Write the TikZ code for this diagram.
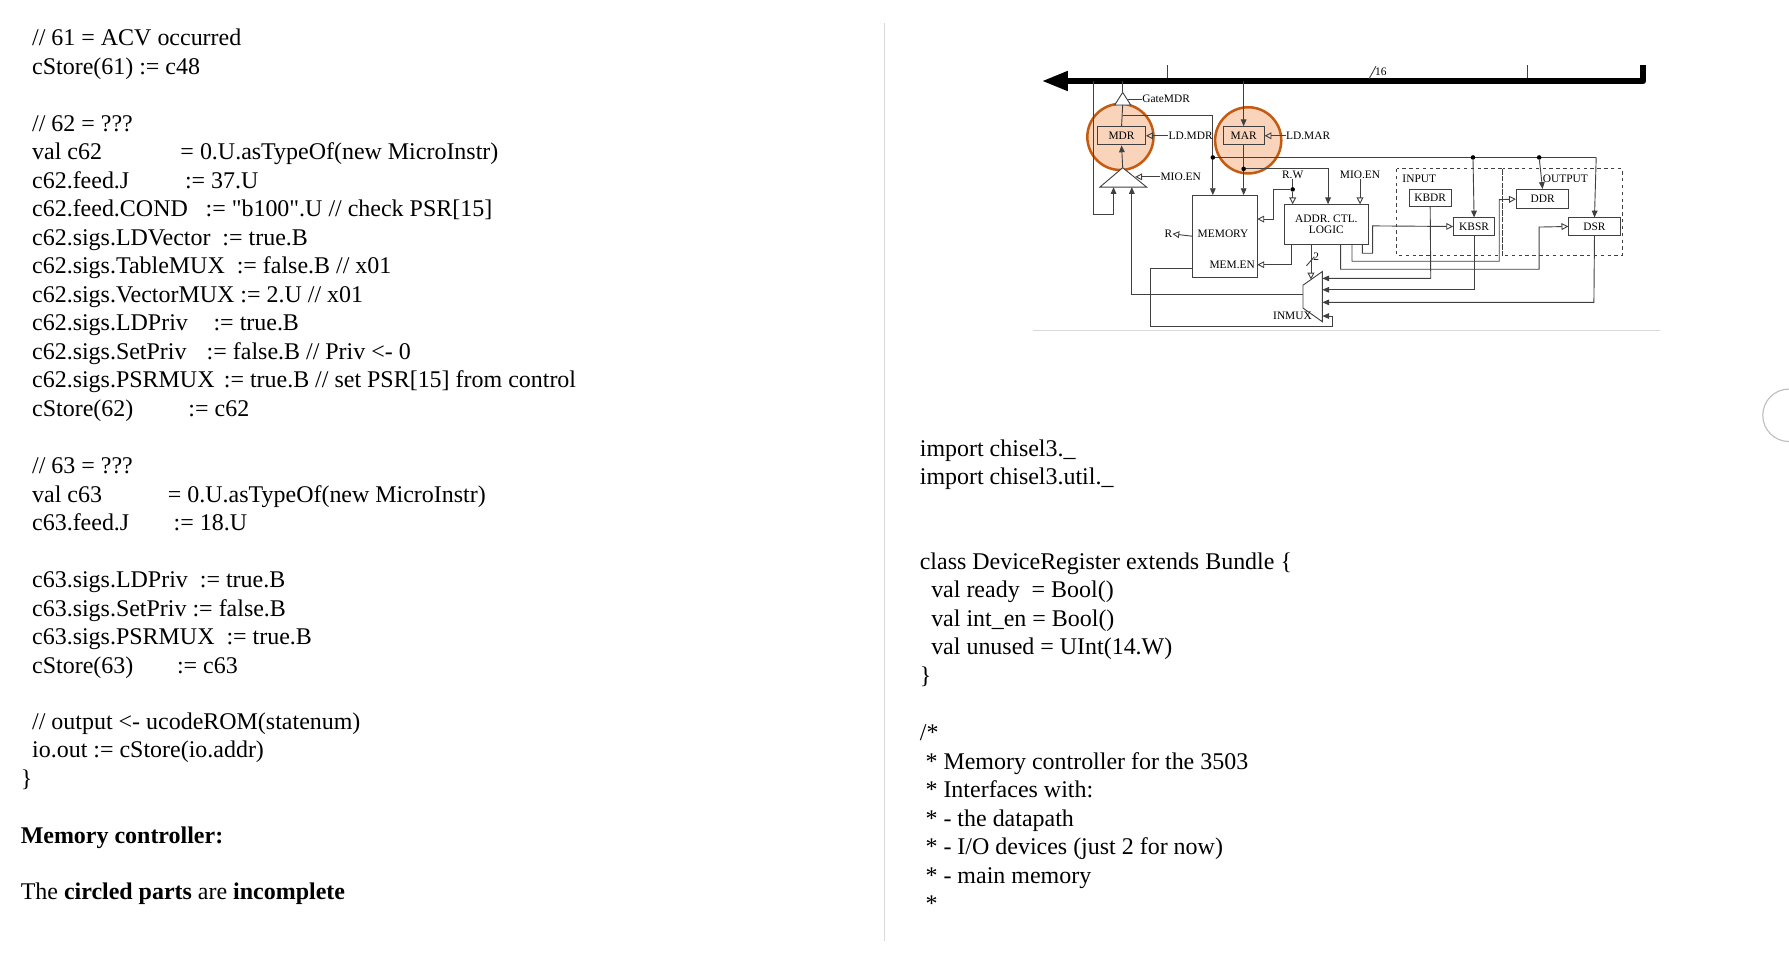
\documentclass[tikz,border=0pt]{standalone}
\usepackage{fontspec}
\setmainfont{Liberation Serif}
\newfontfamily\rawfont{Liberation Serif}[Ligatures=TeXOff]
\usetikzlibrary{arrows.meta}
\newcommand{\fs}{\fontsize{21}{24}\selectfont}
\newcommand{\ds}{\fontsize{10}{11}\selectfont}
\tikzset{
 t/.style={anchor=base west,inner sep=0,font=\fs},
 w/.style={line width=0.8pt,draw=black!75},
 box/.style={w,draw,inner sep=0,font=\ds},
 lab/.style={inner sep=0,font=\ds},
 oa/.style={-{Triangle[open,length=6pt,width=6pt]}},
 fa/.style={-{Triangle[length=6pt,width=5pt]}},
 dot/.style={circle,fill=black,inner sep=0,minimum size=4pt},
 ring/.style={circle,draw={rgb,255:red,197;green,90;blue,17},line width=2.2pt,fill={rgb,255:red,244;green,177;blue,131},fill opacity=0.55,minimum size=58pt,inner sep=0},
}
\begin{document}
\begin{tikzpicture}[x=1pt,y=-1pt]
\useasboundingbox (0,0) rectangle (1568,845);
\draw[black!15,line width=0.8pt] (775,20) -- (775,825);
\draw[black!25,line width=1pt] (1568,387) arc (90:270:23);
% left column
\node[t] at (28,40) {// 61 = ACV occurred};
\node[t] at (28,65) {cStore(61) := c48};
\node[t] at (28,115) {// 62 = ???};
\node[t] at (28,140) {val c62}; \node[t] at (158,140) {= 0.U.asTypeOf(new MicroInstr)};
\node[t] at (28,165) {c62.feed.J}; \node[t] at (162,165) {:= 37.U};
\node[t] at (28,190) {c62.feed.COND}; \node[t] at (180,190) {:= {\rawfont"}b100{\rawfont"}.U // check PSR[15]};
\node[t] at (28,215) {c62.sigs.LDVector\ \ := true.B};
\node[t] at (28,240) {c62.sigs.TableMUX\ \ := false.B // x01};
\node[t] at (28,265) {c62.sigs.VectorMUX := 2.U // x01};
\node[t] at (28,290) {c62.sigs.LDPriv}; \node[t] at (187,290) {:= true.B};
\node[t] at (28,315) {c62.sigs.SetPriv}; \node[t] at (181,315) {:= false.B // Priv <- 0};
\node[t] at (28,340) {c62.sigs.PSRMUX}; \node[t] at (196,340) {:= true.B // set PSR[15] from control};
\node[t] at (28,365) {cStore(62)}; \node[t] at (165,365) {:= c62};
\node[t] at (28,415) {// 63 = ???};
\node[t] at (28,440) {val c63}; \node[t] at (147,440) {= 0.U.asTypeOf(new MicroInstr)};
\node[t] at (28,465) {c63.feed.J}; \node[t] at (152,465) {:= 18.U};
\node[t] at (28,515) {c63.sigs.LDPriv\ \ := true.B};
\node[t] at (28,540) {c63.sigs.SetPriv := false.B};
\node[t] at (28,565) {c63.sigs.PSRMUX\ \ := true.B};
\node[t] at (28,590) {cStore(63)}; \node[t] at (155,590) {:= c63};
\node[t] at (28,639) {// output <- ucodeROM(statenum)};
\node[t] at (28,664) {io.out := cStore(io.addr)};
\node[t] at (18,689) {\}};
\node[t] at (18,739) {\textbf{Memory controller:}};
\node[t] at (18,788) {The \textbf{circled parts} are \textbf{incomplete}};
% right column
\node[t] at (806,400) {import chisel3.\_};
\node[t] at (806,425) {import chisel3.util.\_};
\node[t] at (806,499) {class DeviceRegister extends Bundle \{};
\node[t] at (816,524) {val ready\ \ = Bool()};
\node[t] at (816,549) {val int\_en = Bool()};
\node[t] at (816,574) {val unused = UInt(14.W)};
\node[t] at (806,599) {\}};
\node[t] at (806,649) {/*};
\node[t] at (811,674) {* Memory controller for the 3503};
\node[t] at (811,699) {* Interfaces with:};
\node[t] at (811,724) {* - the datapath};
\node[t] at (811,749) {* - I/O devices (just 2 for now)};
\node[t] at (811,774) {* - main memory};
\node[t] at (811,799) {*};
% diagram
\draw[black!15,line width=0.8pt] (905,290) -- (1455,290);
\node[ring] (cmdr) at (982,120) {};
\node[ring] (cmar) at (1094,123) {};
% bus
\draw[line width=6pt,line join=round] (1440,57) -- (1440,71) -- (934,71);
\fill (914,71) -- (936,62) -- (936,80) -- cycle;
\draw[w] (1023,57) -- (1023,68); \draw[w] (1339,57) -- (1339,68);
\draw[w] (1200,69) -- (1206,58); \node[lab,anchor=west] at (1205,63) {16};
% boxes
\node[box,minimum width=42pt,minimum height=16pt] (mdr) at (983,119) {MDR};
\node[box,minimum width=36pt,minimum height=16pt] (mar) at (1090,119) {MAR};
\node[box,minimum width=57pt,minimum height=72pt] (mem) at (1073.5,207) {};
\node[lab] at (1072,205) {MEMORY};
\node[lab,anchor=east] at (1100,232) {MEM.EN};
\node[box,minimum width=73pt,minimum height=35pt,align=center] (addr) at (1162.5,196.5) {ADDR. CTL.\\[-2pt]LOGIC};
\node[box,minimum width=37pt,minimum height=15pt] (kbdr) at (1253.5,173.5) {KBDR};
\node[box,minimum width=36pt,minimum height=15pt] (kbsr) at (1292,198.5) {KBSR};
\node[box,minimum width=46pt,minimum height=17pt] (ddr) at (1352,174.5) {DDR};
\node[box,minimum width=45pt,minimum height=15pt] (dsr) at (1397.5,198.5) {DSR};
\draw[w,dashed] (1224,148) rectangle (1317,224);
\draw[w,dashed] (1317,148) rectangle (1422,224);
\node[lab,anchor=west] at (1229,157) {INPUT};
\node[lab,anchor=west] at (1352,157) {OUTPUT};
% triangles
\draw[w,fill=white] (984,81) -- (977,92) -- (991,92) -- cycle;
\draw[w,fill=white] (984,147) -- (964,164) -- (1005,164) -- cycle;
\draw[w,fill=white] (1142,250) -- (1159,238) -- (1159,282) -- (1142,270) -- cycle;
\node[lab,anchor=east] at (1150,277) {INMUX};
% labels with open arrows
\node[lab,anchor=west] (gmdr) at (1001,87) {GateMDR}; \draw[w] (gmdr.west) -- (989,87);
\node[lab,anchor=west] (ldmdr) at (1024,119) {LD.MDR}; \draw[w,oa] (ldmdr.west) -- (mdr.east);
\node[lab,anchor=west] (ldmar) at (1127,119) {LD.MAR}; \draw[w,oa] (ldmar.west) -- (mar.east);
\node[lab,anchor=west] (mioen) at (1017,155) {MIO.EN}; \draw[w,oa] (mioen.west) -- (995,155);
\node[lab] (rw) at (1133,153) {R.W};
\node[lab] (mioen2) at (1192,153) {MIO.EN};
\node[lab] (rr) at (1024,205) {R}; \draw[w,oa] (mem.west) -- (rr.east);
% MDR paths
\draw[w] (984,81) -- (984,71);
\draw[w] (mdr.north) -- (984,92);
\draw[w,fa] (984,147) -- (mdr.south);
\draw[w,fa] (958,71) -- (958,188) -- (976,188) -- (976,164);
\draw[w,fa] (1142,258) -- (992,258) -- (992,164);
\draw[w,fa] (984,101) -- (1063,101) -- (1063,171);
\node[dot] (d1) at (1063,138) {};
\draw[w] (d1) -- (1399,138);
\draw[w,fa] (1399,138) -- (dsr.north);
\node[dot] (d2) at (1291,138) {}; \draw[w,fa] (d2) -- (kbsr.north);
\node[dot] (d3) at (1349,138) {}; \draw[w,fa] (d3) -- (ddr.north);
% MAR paths
\draw[w,fa] (1090,71) -- (mar.north);
\draw[w,fa] (mar.south) -- (1090,171);
\node[dot] (d4) at (1090,148) {};
\draw[w,fa] (d4) -- (1164,148) -- (1164,179);
% R.W
\node[dot] (d5) at (1133,166) {};
\draw[w] (rw.south) -- (d5);
\draw[w,oa] (d5) -- (1133,179);
\draw[w,oa] (d5) -- (1116,166) -- (1116,192) -- (1102,192);
\draw[w,oa] (mioen2.south) -- (1192,179);
\draw[w,oa] (1132,214) -- (1132,232) -- (1102,232);
\draw[w,oa] (1149,214) -- (1149,245);
\draw[w] (1145,233) -- (1152,225); \node[lab,anchor=west] at (1151,225) {2};
% ADDR to devices
\draw[w,oa] (1194,214) -- (1194,222) -- (1203,222) -- (1203,198) -- (kbsr.west);
\draw[w,oa] (1185,214) -- (1185,229) -- (1314,229) -- (1314,175) -- (ddr.west);
\draw[w,oa] (1175,214) -- (1175,236) -- (1349,236) -- (1349,199) -- (dsr.west);
% devices to INMUX
\draw[w,fa] (kbdr.south) -- (1254,244) -- (1159,244);
\draw[w,fa] (kbsr.south) -- (1292,254) -- (1159,254);
\draw[w,fa] (dsr.south) -- (1397,265) -- (1159,265);
\draw[w,fa] (1045,235) -- (1008,235) -- (1008,286) -- (1168,286) -- (1168,277) -- (1159,277);
\end{tikzpicture}
\end{document}
